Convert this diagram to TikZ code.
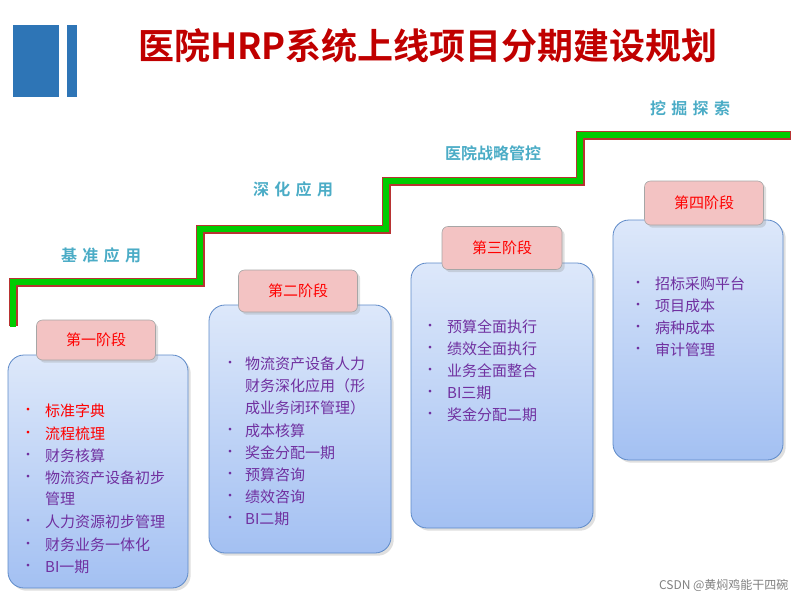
\documentclass[tikz,border=0pt]{standalone}
\usepackage{fontspec}
\setmainfont{Noto Sans CJK SC}
\newfontfamily\cjkb{Noto Sans CJK SC Bold}
\usetikzlibrary{shadows}
\definecolor{tred}{HTML}{C00000}
\definecolor{bbar}{HTML}{2E75B6}
\definecolor{teal}{HTML}{4BACC6}
\definecolor{purp}{HTML}{7030A0}
\definecolor{btop}{HTML}{DDE8FA}
\definecolor{bbot}{HTML}{A3C0F2}
\definecolor{bdr}{HTML}{5E8AC8}
\definecolor{pink}{HTML}{F3C3C3}
\tikzset{
 stagebox/.style={draw=bdr,line width=0.8pt,rounded corners=16pt,top color=btop,bottom color=bbot,drop shadow={opacity=0.25}},
 headbox/.style={draw=gray!70,line width=0.6pt,rounded corners=6pt,fill=pink,text=red,font=\fontsize{15}{15}\selectfont,drop shadow={opacity=0.25}},
 lvl/.style={text=teal,font=\cjkb\fontsize{16}{16}\selectfont},
 item/.style={anchor=west,text=purp,font=\fontsize{15}{15}\selectfont,inner sep=0pt},
 ritem/.style={item,text=red},
 dot/.style={anchor=center,text=purp,font=\fontsize{13}{13}\selectfont,inner sep=0pt},
 rdot/.style={dot,text=red}
}
\begin{document}
\begin{tikzpicture}[x=1pt,y=-1pt]
\useasboundingbox (0,0) rectangle (800,600);
\fill[bbar] (13,25) rectangle (59,97);
\fill[bbar] (67,25) rectangle (77,97);
\node[text=tred,font=\cjkb\fontsize{36}{36}\selectfont] (title) at (428,46) {医院HRP系统上线项目分期建设规划};
% staircase
\coordinate (s0) at (13,326);
\coordinate (s1) at (13,282);
\coordinate (s2) at (200,282);
\coordinate (s3) at (200,229);
\coordinate (s4) at (386,229);
\coordinate (s5) at (386,181);
\coordinate (s6) at (580,181);
\coordinate (s7) at (580,135);
\coordinate (s8) at (791,135);
\draw[red!65!black!80,line width=9pt] (s0)--(s1)--(s2)--(s3)--(s4)--(s5)--(s6)--(s7)--(s8);
\draw[green!80!black,line width=6.5pt] ([yshift=-1pt]s0)--(s1)--(s2)--(s3)--(s4)--(s5)--(s6)--(s7)--([xshift=-1.5pt]s8);
\node[lvl] (l1) at (101,255) {基\,\,准\,\,应\,\,用};
\node[lvl] (l2) at (293,189) {深\,\,化\,\,应\,\,用};
\node[lvl] (l3) at (493,153) {医院战略管控};
\node[lvl] (l4) at (690,108) {挖\,\,掘\,\,探\,\,索};
% boxes
\draw[stagebox] (8,355) rectangle (188,588);
\draw[stagebox] (209,305) rectangle (391,553);
\draw[stagebox] (411,263) rectangle (593,528);
\draw[stagebox] (613,220) rectangle (783,460);
\node[headbox,minimum width=119pt,minimum height=40pt] (h1) at (96,340) {第一阶段};
\node[headbox,minimum width=119pt,minimum height=42pt] (h2) at (298,291) {第二阶段};
\node[headbox,minimum width=120pt,minimum height=43pt] (h3) at (502,248) {第三阶段};
\node[headbox,minimum width=119pt,minimum height=44pt] (h4) at (704,203) {第四阶段};
% box1 items
\foreach \y/\t [count=\i] in {411/标准字典,434/流程梳理}{
 \node[rdot] (d1r\i) at (28,\y) {•}; \node[ritem] (t1r\i) at (45,\y) {\t};}
\foreach \y/\t [count=\i] in {456/财务核算,478/物流资产设备初步,522/人力资源初步管理,545/财务业务一体化,567/BI一期}{
 \node[dot] (d1\i) at (28,\y) {•}; \node[item] (t1\i) at (45,\y) {\t};}
\node[item] (t1x) at (45,499) {管理};
% box2
\foreach \y/\t [count=\i] in {364/物流资产设备人力,431/成本核算,453/奖金分配一期,475/预算咨询,497/绩效咨询,519/BI二期}{
 \node[dot] (d2\i) at (230,\y) {•}; \node[item] (t2\i) at (245,\y) {\t};}
\node[item] (t2a) at (245,386) {财务深化应用（形};
\node[item] (t2b) at (245,408) {成业务闭环管理）};
% box3
\foreach \y/\t [count=\i] in {327/预算全面执行,349/绩效全面执行,371/业务全面整合,393/BI三期,415/奖金分配二期}{
 \node[dot] (d3\i) at (430,\y) {•}; \node[item] (t3\i) at (447,\y) {\t};}
% box4
\foreach \y/\t [count=\i] in {284/招标采购平台,306/项目成本,328/病种成本,350/审计管理}{
 \node[dot] (d4\i) at (638,\y) {•}; \node[item] (t4\i) at (655,\y) {\t};}
\node[text=gray,font=\fontsize{12}{12}\selectfont,anchor=east] (wm) at (792,585) {CSDN @黄焖鸡能干四碗};
\end{tikzpicture}
\end{document}
